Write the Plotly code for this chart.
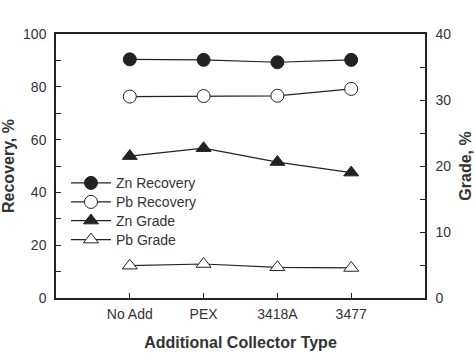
import plotly.graph_objects as go

categories = ["No Add", "PEX", "3418A", "3477"]
zn_recovery = [90.4, 90.2, 89.3, 90.2]
pb_recovery = [76.3, 76.5, 76.6, 79.2]
zn_grade = [21.5, 22.7, 20.6, 19.0]
pb_grade = [4.9, 5.15, 4.65, 4.55]

FONT = "Liberation Sans, Arial, sans-serif"
INK = "#222222"
TXT = "#333333"
xpos = list(range(len(categories)))

fig = go.Figure()
common_line = dict(color=INK, width=1.2)
fig.add_trace(go.Scatter(x=xpos, y=zn_recovery, name="Zn Recovery", mode="lines+markers",
                         line=common_line, legend="legend",
                         marker=dict(symbol="circle", size=13, color=INK, line=dict(color=INK, width=1))))
fig.add_trace(go.Scatter(x=xpos, y=pb_recovery, name="Pb Recovery", mode="lines+markers",
                         line=common_line, legend="legend2",
                         marker=dict(symbol="circle", size=13, color="white", line=dict(color=INK, width=1))))
fig.add_trace(go.Scatter(x=xpos, y=zn_grade, name="Zn Grade", mode="lines+markers", yaxis="y2",
                         line=common_line, legend="legend3",
                         marker=dict(symbol="triangle-up", size=13, color=INK, line=dict(color=INK, width=1))))
fig.add_trace(go.Scatter(x=xpos, y=pb_grade, name="Pb Grade", mode="lines+markers", yaxis="y2",
                         line=common_line, legend="legend4",
                         marker=dict(symbol="triangle-up", size=13, color="white", line=dict(color=INK, width=1))))

def leg(yc):
    return dict(x=0.027, y=yc, xanchor="left", yanchor="middle",
                bgcolor="rgba(0,0,0,0)", font=dict(size=14, color=TXT), itemwidth=40)

fig.update_layout(
    width=474, height=355,
    margin=dict(l=56, r=49, t=34, b=57, autoexpand=False),
    paper_bgcolor="white", plot_bgcolor="white",
    font=dict(family=FONT, size=14, color=TXT),
    showlegend=True,
    legend=leg(0.4345), legend2=leg(0.3625), legend3=leg(0.2917), legend4=leg(0.2197),
    xaxis=dict(
        range=[-1, 4], tickvals=xpos, ticktext=categories, automargin=False,
        showline=True, linecolor=INK, linewidth=1.5, mirror=True,
        ticks="inside", ticklen=5, tickcolor=INK, tickwidth=1.2,
        showgrid=False, zeroline=False, ticklabelstandoff=2,
        tickfont=dict(size=14, color=TXT),
        title=dict(text="<b>Additional Collector Type</b>", font=dict(size=16, color=TXT), standoff=16),
    ),
    yaxis=dict(
        range=[0, 100], dtick=20, tick0=0, automargin=False,
        showline=True, linecolor=INK, linewidth=1.5,
        ticks="inside", ticklen=5, tickcolor=INK, tickwidth=1.2,
        minor=dict(dtick=10, ticks="inside", ticklen=5, tickcolor=INK, tickwidth=1.2),
        showgrid=False, zeroline=False, ticklabelstandoff=5,
        tickfont=dict(size=14, color=TXT),
        title=dict(text="<b>Recovery, %</b>", font=dict(size=16, color=TXT), standoff=10),
    ),
    yaxis2=dict(
        range=[0, 40], dtick=10, tick0=0, overlaying="y", side="right", automargin=False,
        showline=True, linecolor=INK, linewidth=1.5,
        ticks="inside", ticklen=5, tickcolor=INK, tickwidth=1.2,
        minor=dict(dtick=5, ticks="inside", ticklen=5, tickcolor=INK, tickwidth=1.2),
        showgrid=False, zeroline=False, ticklabelstandoff=6,
        tickfont=dict(size=14, color=TXT),
        title=dict(text="<b>Grade, %</b>", font=dict(size=16, color=TXT), standoff=13),
    ),
)

fig.write_html("out.html", config={"displayModeBar": False},
               post_script="document.body.style.margin='0';")
